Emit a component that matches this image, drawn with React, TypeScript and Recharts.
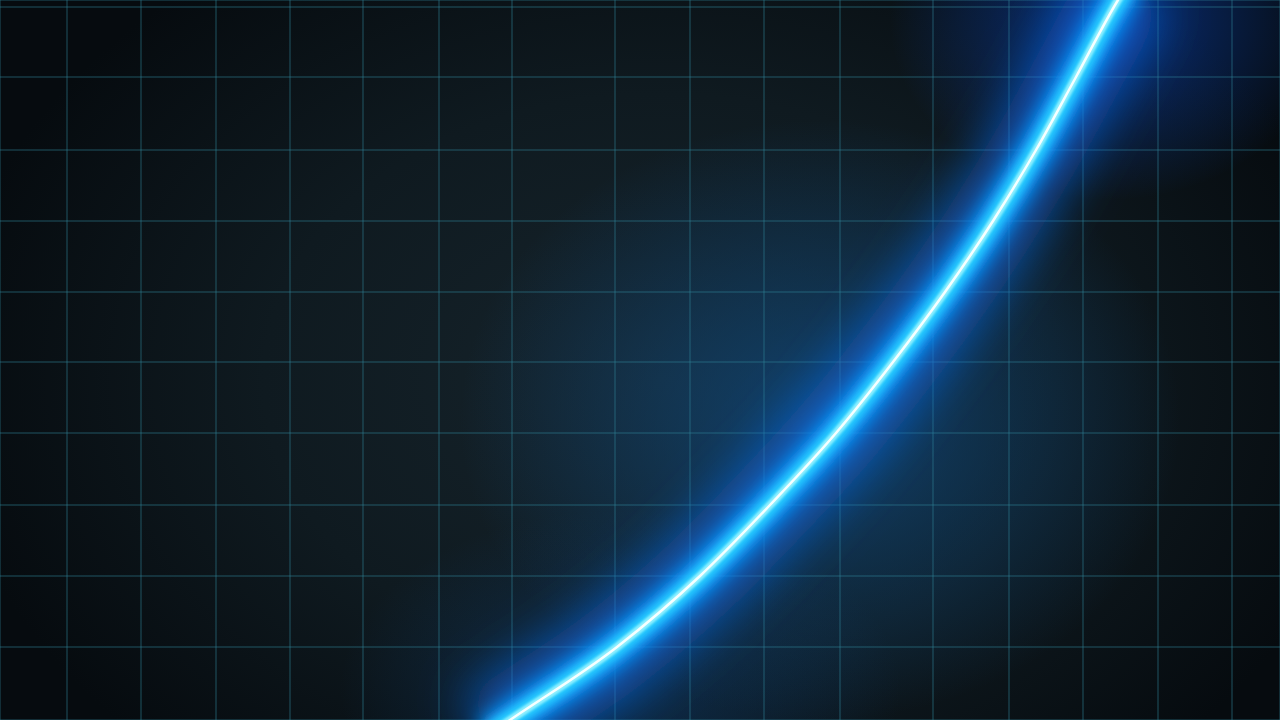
import { CartesianGrid, Line, LineChart, XAxis, YAxis } from 'recharts';

// horizontal position of the curve and its height above the bottom edge
const curveX = [488, 510, 617, 700, 770, 836, 893, 945, 993, 1036, 1076, 1118, 1128];
const curveY = [-15, 0, 73, 144, 215, 287, 358, 428, 499, 570, 643, 720, 736];

// grid positions (same units as the axes)
const xTicks = [67, 141, 216, 290, 363, 439, 512, 588, 615, 690, 764, 840, 933, 1009, 1083, 1158, 1232];
const yTicks = [2, 73, 144, 215, 287, 358, 428, 499, 570, 643, 713];

const WIDTH = 1280;
const HEIGHT = 720;

const data = curveX.map((x, i) => ({ x, y: curveY[i] }));

const background = [
  'radial-gradient(ellipse 220px 180px at 1110px 20px, rgba(10,70,190,0.6), rgba(10,70,190,0) 100%)',
  'radial-gradient(ellipse 360px 300px at 820px 420px, rgba(14,78,135,0.7), rgba(14,70,120,0) 100%)',
  'radial-gradient(ellipse 280px 180px at 620px 690px, rgba(12,60,110,0.55), rgba(12,60,110,0) 100%)',
  'radial-gradient(ellipse 720px 520px at 660px 380px, #16242c 0%, #0f1a20 55%, #060b0f 100%)',
  'linear-gradient(90deg, #03070a 0%, #0d171c 35%, #111d24 60%, #050b10 100%)',
].join(', ');

const App = (): JSX.Element => {
  return (
    <div style={{ width: WIDTH, height: HEIGHT, background, position: 'relative', overflow: 'hidden' }}>
      <style>{`
        body { margin: 0; }
        .glow-wide .recharts-curve { filter: url(#glowWide); }
        .glow-mid .recharts-curve { filter: url(#glowMid); }
        .glow-near .recharts-curve { filter: url(#glowNear); }
        .glow-core .recharts-curve { filter: url(#glowCore); }
      `}</style>
      <LineChart
        width={WIDTH}
        height={HEIGHT}
        data={data}
        margin={{ top: 0, right: 0, bottom: 0, left: 0 }}
      >
        <defs>
          <filter id='glowWide' filterUnits='userSpaceOnUse' x={0} y={0} width={WIDTH} height={HEIGHT}>
            <feGaussianBlur stdDeviation={24} />
          </filter>
          <filter id='glowMid' filterUnits='userSpaceOnUse' x={0} y={0} width={WIDTH} height={HEIGHT}>
            <feGaussianBlur stdDeviation={9} />
          </filter>
          <filter id='glowNear' filterUnits='userSpaceOnUse' x={0} y={0} width={WIDTH} height={HEIGHT}>
            <feGaussianBlur stdDeviation={4} />
          </filter>
          <filter id='glowCore' filterUnits='userSpaceOnUse' x={0} y={0} width={WIDTH} height={HEIGHT}>
            <feGaussianBlur stdDeviation={1} />
          </filter>
        </defs>
        <CartesianGrid
          stroke='#2f8395'
          strokeOpacity={0.4}
          strokeWidth={1.5}
        />
        <XAxis
          type='number'
          dataKey='x'
          domain={[0, WIDTH]}
          ticks={xTicks}
          allowDataOverflow
          hide
        />
        <YAxis
          type='number'
          domain={[0, HEIGHT]}
          ticks={yTicks}
          allowDataOverflow
          hide
        />
        <Line
          className='glow-wide'
          type='monotone'
          dataKey='y'
          stroke='#0a6ae8'
          strokeWidth={90}
          strokeOpacity={0.65}
          dot={false}
          activeDot={false}
          isAnimationActive={false}
        />
        <Line
          className='glow-mid'
          type='monotone'
          dataKey='y'
          stroke='#0e9cff'
          strokeWidth={34}
          dot={false}
          activeDot={false}
          isAnimationActive={false}
        />
        <Line
          className='glow-near'
          type='monotone'
          dataKey='y'
          stroke='#2cd2ff'
          strokeWidth={18}
          dot={false}
          activeDot={false}
          isAnimationActive={false}
        />
        <Line
          className='glow-core'
          type='monotone'
          dataKey='y'
          stroke='#8eefff'
          strokeWidth={8}
          dot={false}
          activeDot={false}
          isAnimationActive={false}
        />
        <Line
          type='monotone'
          dataKey='y'
          stroke='#f6ffff'
          strokeWidth={2.5}
          dot={false}
          activeDot={false}
          isAnimationActive={false}
        />
      </LineChart>
    </div>
  );
};

export default App;
